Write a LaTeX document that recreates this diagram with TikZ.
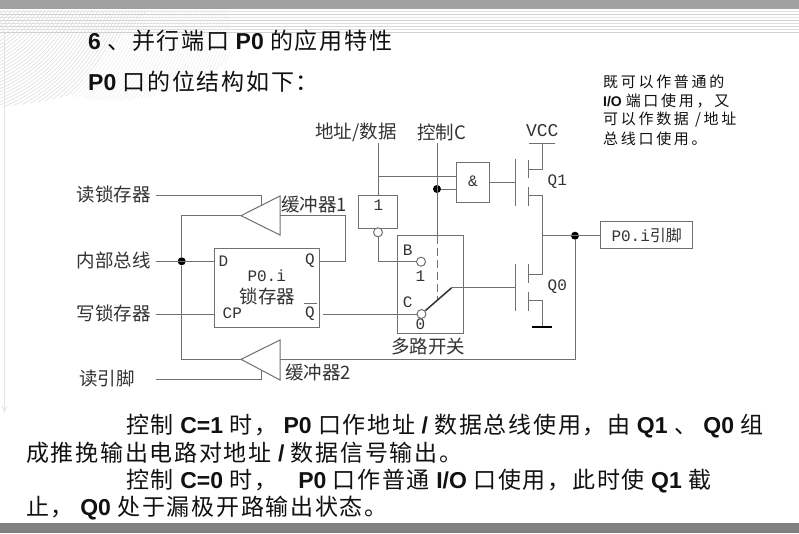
\documentclass[tikz,border=0pt]{standalone}
\usepackage{fontspec}
\setmainfont{Liberation Sans}
\newfontfamily\cjk{Noto Sans CJK SC}
\newfontfamily\cjkhead[LetterSpace=7.5]{Noto Sans CJK SC}
\newfontfamily\cjknote[LetterSpace=18]{Noto Sans CJK SC}
\newfontfamily\mono{Liberation Mono}
\newcommand{\hd}[1]{{\fontsize{23}{23}\cjkhead #1}}
\newcommand{\nt}[1]{{\fontsize{15}{15}\cjknote #1}}
\newcommand{\lt}[1]{{\bfseries #1}}
\definecolor{wire}{HTML}{707070}
\definecolor{ink}{HTML}{333333}
\definecolor{txt}{HTML}{111111}
\tikzset{
  wireline/.style={draw=wire,line width=1pt},
  boxshape/.style={draw=wire,line width=1pt,rectangle,inner sep=0pt,outer sep=0pt},
  dotnode/.style={circle,fill=black,inner sep=0pt,minimum size=8pt},
  bubble/.style={circle,draw=wire,fill=white,line width=1pt,inner sep=0pt,minimum size=9pt},
  lab/.style={text=ink,inner sep=0pt,font=\fontsize{18.5}{18.5}\cjk},
  lat/.style={text=ink,inner sep=0pt,font=\fontsize{16}{16}\mono},
  head/.style={anchor=west,text=txt,inner sep=0pt,font=\fontsize{23}{23}\selectfont},
  note/.style={anchor=west,text=txt,inner sep=0pt,font=\fontsize{14}{14}\selectfont},
}
\begin{document}
\begin{tikzpicture}[x=1pt,y=-1pt]
\useasboundingbox (0,0) rectangle (799,533);
% background
\fill[white] (0,0) rectangle (799,533);
\begin{scope}
\clip (0,10) -- (150,10) .. controls (120,35) and (100,60) .. (70,95) .. controls (45,102) and (20,105) .. (0,107) -- cycle;
\foreach \r in {40,43,...,340} \draw[black!14,line width=0.5pt] (-60,-50) circle (\r pt);
\foreach \a in {0,3,...,90} \draw[black!11,line width=0.5pt] (-60,-50) -- ++(\a:340pt);
\end{scope}
\begin{scope}
\clip (150,10) .. controls (120,35) and (100,60) .. (70,95) .. controls (110,108) and (180,100) .. (230,60) -- (230,10) -- cycle;
\foreach \r in {40,43,...,380} \draw[black!7,line width=0.5pt] (-60,-50) circle (\r pt);
\end{scope}
\foreach \y/\g in {11/10,14/18,17/10,20/16,23/12,26/16,29/12,32/18} \draw[black!\g,line width=1pt] (0,\y) -- (799,\y);
\fill[black!37] (0,0) rectangle (799,9);
\fill[black!50] (0,522.5) rectangle (799,533);
\draw[black!10,line width=1pt] (4.5,33) -- (4.5,410);
\draw[black!10,line width=0.8pt] (2,406) -- (4.5,412) -- (7,406);
% texts
\node[head] (title) at (88,41) {\lt{6} \hd{、并行端口} \lt{P0} \hd{的应用特性}};
\node[head] (sub) at (88,82) {\lt{P0} \hd{口的位结构如下：}};
\node[note] (n1) at (603,82) {\nt{既可以作普通的}};
\node[note] (n2) at (603,101) {\lt{I/O} \nt{端口使用，又}};
\node[note] (n3) at (603,120) {\nt{可以作数据 /地址}};
\node[note] (n4) at (603,139) {\nt{总线口使用。}};
\node[head] (b1) at (126,426) {\hd{控制} \lt{C=1} \hd{时，} \lt{P0} \hd{口作地址} \lt{/} \hd{数据总线使用，由} \lt{Q1} \hd{、} \lt{Q0} \hd{组}};
\node[head] (b2) at (26,453) {\hd{成推挽输出电路对地址} \lt{/} \hd{数据信号输出。}};
\node[head] (b3) at (126,481) {\hd{控制} \lt{C=0} \hd{时，}\hspace{21pt}\lt{P0} \hd{口作普通} \lt{I/O} \hd{口使用，此时使} \lt{Q1} \hd{截}};
\node[head] (b4) at (26,508) {\hd{止，} \lt{Q0} \hd{处于漏极开路输出状态。}};
% boxes
\node[boxshape,minimum width=105pt,minimum height=78.7pt] (latch) at (266.8,287.65) {};
\node[boxshape,minimum width=39.4pt,minimum height=32.6pt] (inv) at (378,212) {};
\node[boxshape,minimum width=33pt,minimum height=39.6pt] (and) at (472.8,182.5) {};
\node[boxshape,minimum width=66pt,minimum height=97.6pt] (mux) at (430.7,284.5) {};
\node[boxshape,minimum width=92pt,minimum height=26.6pt] (pin) at (646.7,235) {};
% labels
\node[lab,anchor=east] (rl) at (151,194.5) {读锁存器};
\node[lab,anchor=east] (nb) at (151,260.5) {内部总线};
\node[lab,anchor=east] (wl) at (151,313) {写锁存器};
\node[lab,anchor=east] (rp) at (135,379) {读引脚};
\node[lab,anchor=west] (buf1) at (281,204.5) {缓冲器1};
\node[lab,anchor=west] (buf2) at (285,372.5) {缓冲器2};
\node[lab] (addr) at (356,132.5) {地址/数据};
\node[lab] (ctrl) at (441.5,132.5) {控制C};
\node[lab] (muxl) at (428,346) {多路开关};
\node[lab] (lname) at (267.3,296.5) {锁存器};
\node[lat] (li) at (266.7,275.5) {P0.i};
\node[lat] (ld) at (223.5,261) {D};
\node[lat] (lq) at (310,261) {Q};
\node[lat] (lcp) at (232.3,313.5) {CP};
\node[lat] (lqb) at (310,313.5) {Q};
\node[lat] (invl) at (378.3,205) {1};
\node[lat] (andl) at (472.8,181.5) {\&};
\node[lat] (mb) at (407.7,250.5) {B};
\node[lat] (m1) at (420.3,276.5) {1};
\node[lat] (mc) at (407.7,302.5) {C};
\node[lat] (m0) at (420.3,324.5) {0};
\node[lat] (q1l) at (557.3,181.5) {Q1};
\node[lat] (q0l) at (557.3,286.5) {Q0};
\node[lat,font=\fontsize{18}{18}\mono] (vcc) at (542.3,130.5) {VCC};
\node[lab,font=\fontsize{16}{16}\cjk] (pinl) at (646.7,235) {{\mono P0.i}引脚};
% named points
\coordinate (rlend) at (155.7,195);
\coordinate (b1apex) at (241,215.7);
\coordinate (b1top) at (280,196);
\coordinate (b1bot) at (280,235);
\coordinate (b1in) at (280,215.7);
\coordinate (b1en) at (261,205.5);
\coordinate (b2apex) at (241,359.3);
\coordinate (b2top) at (280,340);
\coordinate (b2bot) at (280,380);
\coordinate (b2in) at (280,359.3);
\coordinate (b2en) at (261,370);
\coordinate (nbend) at (155.7,261.3);
\coordinate (wlend) at (155.7,314);
\coordinate (rpend) at (155.7,379.3);
\coordinate (qbout) at (323,314);
\coordinate (addrtop) at (378,143.3);
\coordinate (ctrltop) at (437,143.3);
\coordinate (vccpt) at (542.3,143.3);
\coordinate (armend) at (451.7,287.7);
\coordinate (gndpt) at (542.3,326.7);
\coordinate (q0gate) at (515.7,287.7);
\coordinate (q1gate) at (515.7,182.3);
% junctions, terminals
\node[dotnode] (busdot) at (181.7,261.3) {};
\node[dotnode] (cdot) at (437,189) {};
\node[dotnode] (pindot) at (575,235.7) {};
\node[bubble] (invb) at (378,232.3) {};
\node[bubble] (bterm) at (421,261.7) {};
\node[bubble] (cterm) at (421.5,314) {};
% buffers
\draw[wireline] (b1apex) -- (b1top) -- (b1bot) -- cycle;
\draw[wireline] (b2apex) -- (b2top) -- (b2bot) -- cycle;
% connectors
\draw[wireline] (rlend) -| (b1en);
\draw[wireline] (rpend) -| (b2en);
\draw[wireline] (b1apex) -| (busdot) |- (b2apex);
\draw[wireline] (nbend) -- (latch.west |- nbend);
\draw[wireline] (wlend) -- (latch.west |- wlend);
\draw[wireline] (b1in) -| (345.3,261.3) -- (latch.east |- nbend);
\draw[wireline] (b2in) -| (pindot);
\draw[wireline] (qbout) -- (cterm);
\draw[wireline] (304,303) -- (317,303);
\draw[wireline] (addrtop) -- (inv.north -| addrtop);
\draw[wireline] (invb) |- (bterm);
\draw[wireline] (378,176) -- (and.west |- 378,176);
\draw[wireline] (ctrltop) -- (mux.north -| ctrltop);
\draw[wireline,dash pattern=on 8pt off 4pt] (mux.north -| ctrltop) -- (437,300);
\draw[wireline] (cdot) -- (and.west |- cdot);
\draw[wireline] (and.east |- q1gate) -- (q1gate);
% Q1
\draw[wireline] (515.7,159.3) -- (515.7,205.7);
\draw[wireline] (528.7,160) -- (528.7,178) (528.7,187) -- (528.7,205.7);
\draw[wireline] (528.7,169.3) -| (vccpt);
\draw[wireline] (529,143.3) -- (555,143.3);
\draw[wireline] (528.7,195.7) -| (542.3,274) -- (528.7,274);
% Q0
\draw[wireline] (515.7,264.3) -- (515.7,310.7);
\draw[wireline] (528.7,264.3) -- (528.7,283) (528.7,291.7) -- (528.7,310.7);
\draw[wireline] (528.7,300.7) -| (gndpt);
\draw[black,line width=2.2pt] (532.3,326.7) -- (551.7,326.7);
% outputs
\draw[wireline] (542.3,235.7) -- (pin.west |- 542.3,235.7);
\draw[wireline] (armend) -- (q0gate);
\draw[line width=1.5pt,draw=black!80] (cterm) -- (armend);
\end{tikzpicture}
\end{document}
